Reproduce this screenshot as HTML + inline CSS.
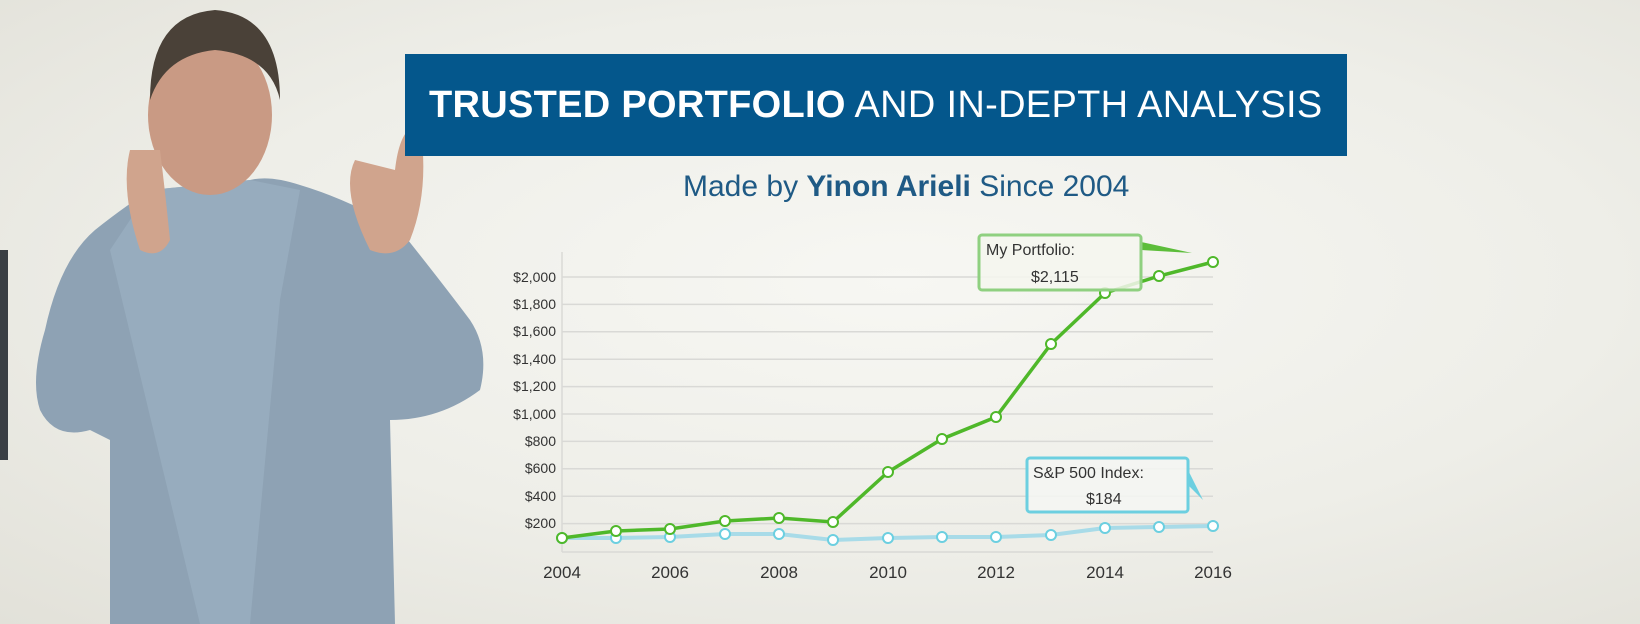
<!DOCTYPE html>
<html><head><meta charset="utf-8"><style>
html,body{margin:0;padding:0}
body{width:1640px;height:624px;overflow:hidden;position:relative;font-family:"Liberation Sans",sans-serif;
background:radial-gradient(ellipse at 55% 45%,#f7f7f3 0%,#eeeee8 55%,#e2e1d9 100%);}
.banner{position:absolute;left:405px;top:54px;width:942px;height:102px;background:#04578c;color:#fff;
font-size:38px;line-height:102px;white-space:nowrap;letter-spacing:0.3px}
.banner span{position:absolute;left:24px}
.sub{position:absolute;left:683px;top:170px;font-size:30px;color:#1f5a85;white-space:nowrap;letter-spacing:0px}
</style></head><body>
<svg width="1640" height="624" style="position:absolute;left:0;top:0">
<!-- person -->
<rect x="0" y="250" width="8" height="210" fill="#3a3f44"/>
<path d="M150,190 Q120,210 95,230 Q60,260 45,330 Q30,380 40,410 Q55,440 90,430 L110,440 L110,624 L395,624 L390,420 Q440,420 480,390 Q490,350 470,320 Q440,280 400,230 Q350,200 300,185 Q270,175 250,180 Z" fill="#8ea2b4"/>
<path d="M110,250 L150,190 L250,180 L300,190 L280,300 L250,624 L200,624 Z" fill="#9bb0c2" opacity="0.7"/>
<ellipse cx="210" cy="115" rx="62" ry="80" fill="#c99a84"/>
<path d="M150,100 Q150,15 215,10 Q280,15 280,100 Q270,55 215,50 Q165,55 150,100 Z" fill="#4a4138"/>
<path d="M130,150 Q120,190 140,250 Q160,260 170,240 Q165,190 160,150 Z" fill="#d0a48d"/>
<path d="M355,160 Q340,190 370,250 Q395,260 410,240 Q430,190 420,125 Q400,125 395,170 Z" fill="#d0a48d"/>
<!-- chart grid -->
<g stroke="#d9d9d6" stroke-width="1.5">
<line x1="562" x2="1213" y1="277" y2="277"/><line x1="562" x2="1213" y1="304.4" y2="304.4"/>
<line x1="562" x2="1213" y1="331.8" y2="331.8"/><line x1="562" x2="1213" y1="359.2" y2="359.2"/>
<line x1="562" x2="1213" y1="386.6" y2="386.6"/><line x1="562" x2="1213" y1="414" y2="414"/>
<line x1="562" x2="1213" y1="441.4" y2="441.4"/><line x1="562" x2="1213" y1="468.8" y2="468.8"/>
<line x1="562" x2="1213" y1="496.2" y2="496.2"/><line x1="562" x2="1213" y1="523.6" y2="523.6"/>
<line x1="562" x2="1213" y1="552" y2="552"/>
<line x1="562" x2="562" y1="252" y2="552"/>
</g>
<g font-size="14" fill="#333" text-anchor="end">
<text x="556" y="282">$2,000</text><text x="556" y="309">$1,800</text><text x="556" y="336">$1,600</text>
<text x="556" y="364">$1,400</text><text x="556" y="391">$1,200</text><text x="556" y="419">$1,000</text>
<text x="556" y="446">$800</text><text x="556" y="473">$600</text><text x="556" y="501">$400</text><text x="556" y="528">$200</text>
</g>
<g font-size="17" fill="#333" text-anchor="middle">
<text x="562" y="578">2004</text><text x="670" y="578">2006</text><text x="779" y="578">2008</text>
<text x="888" y="578">2010</text><text x="996" y="578">2012</text><text x="1105" y="578">2014</text><text x="1213" y="578">2016</text>
</g>
<polyline fill="none" stroke="#a8dbe8" stroke-width="4" points="562,538 616,538 670,537 725,534 779,534 833,540 888,538 942,537 996,537 1051,535 1105,528 1159,527 1213,526"/>
<g fill="#fff" stroke="#6ccfe0" stroke-width="2">
<circle cx="562" cy="538" r="5"/><circle cx="616" cy="538" r="5"/><circle cx="670" cy="537" r="5"/><circle cx="725" cy="534" r="5"/><circle cx="779" cy="534" r="5"/><circle cx="833" cy="540" r="5"/><circle cx="888" cy="538" r="5"/><circle cx="942" cy="537" r="5"/><circle cx="996" cy="537" r="5"/><circle cx="1051" cy="535" r="5"/><circle cx="1105" cy="528" r="5"/><circle cx="1159" cy="527" r="5"/><circle cx="1213" cy="526" r="5"/>
</g>
<polyline fill="none" stroke="#4fb82a" stroke-width="3.5" points="562,538 616,531 670,529 725,521 779,518 833,522 888,472 942,439 996,417 1051,344 1105,293 1159,276 1213,262"/>
<g fill="#fff" stroke="#4fb82a" stroke-width="2">
<circle cx="562" cy="538" r="5"/><circle cx="616" cy="531" r="5"/><circle cx="670" cy="529" r="5"/><circle cx="725" cy="521" r="5"/><circle cx="779" cy="518" r="5"/><circle cx="833" cy="522" r="5"/><circle cx="888" cy="472" r="5"/><circle cx="942" cy="439" r="5"/><circle cx="996" cy="417" r="5"/><circle cx="1051" cy="344" r="5"/><circle cx="1105" cy="293" r="5"/><circle cx="1159" cy="276" r="5"/><circle cx="1213" cy="262" r="5"/>
</g>
<!-- callouts -->
<path d="M1141,242 L1192,253 L1141,250 Z" fill="#5cbd3a"/>
<rect x="979" y="235" width="162" height="55" rx="3" fill="#f4f6ef" fill-opacity="0.85" stroke="#8fd080" stroke-width="3"/>
<text x="986" y="255" font-size="16" fill="#333">My Portfolio:</text>
<text x="1031" y="282" font-size="16" fill="#333">$2,115</text>
<path d="M1188,470 L1203,500 L1188,485 Z" fill="#6ccfe0"/>
<rect x="1027" y="458" width="161" height="54" rx="3" fill="#f4f6f3" fill-opacity="0.85" stroke="#6ccfe0" stroke-width="3"/>
<text x="1033" y="478" font-size="16" fill="#333">S&amp;P 500 Index:</text>
<text x="1086" y="504" font-size="16" fill="#333">$184</text>
</svg>
<div class="banner"><span><b>TRUSTED PORTFOLIO</b> AND IN-DEPTH ANALYSIS</span></div>
<div class="sub">Made by <b>Yinon Arieli</b> Since 2004</div>
</body></html>
